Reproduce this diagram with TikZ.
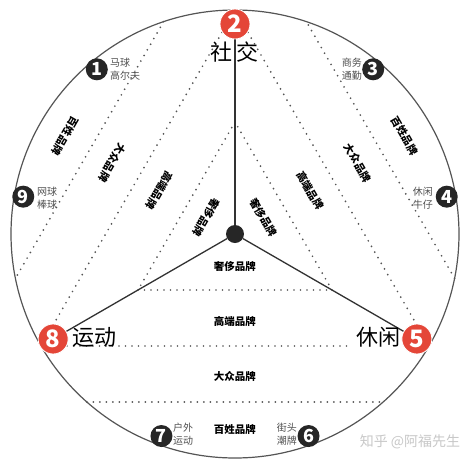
\documentclass[tikz,border=0pt]{standalone}
\usepackage{fontspec}
\setmainfont{Noto Sans CJK SC}
\definecolor{markred}{RGB}{228,70,56}
\definecolor{markblack}{RGB}{38,38,38}
\definecolor{ringgray}{RGB}{85,85,85}
\definecolor{spokegray}{RGB}{50,50,50}
\definecolor{dotgray}{RGB}{85,85,85}
\definecolor{labelgray}{RGB}{80,80,80}
\definecolor{wmgray}{RGB}{200,200,200}
\begin{document}
\begin{tikzpicture}[x=1pt,y=1pt,
  ring/.style={draw=ringgray, line width=1.2pt},
  spoke/.style={draw=spokegray, line width=1.3pt},
  dotline/.style={draw=dotgray, line width=1.9pt, line cap=round, dash pattern=on 0pt off 6.5pt},
  redmark/.style={circle, fill=markred, draw=white, line width=0.8pt, minimum size=30pt, inner sep=0pt, text=white, font=\bfseries\fontsize{24}{24}\selectfont},
  blackmark/.style={circle, fill=markblack, minimum size=22pt, inner sep=0pt, text=white, font=\bfseries\fontsize{18}{18}\selectfont},
  biglabel/.style={font=\fontsize{22}{22}\selectfont, text=black, inner sep=0pt},
  small/.style={font=\fontsize{10}{13}\selectfont, text=labelgray, inner sep=0pt},
  band/.style={font=\bfseries\fontsize{10.5}{10.5}\selectfont, inner sep=0pt, text=black}
]
\useasboundingbox (-235,-225) rectangle (239,234);
\fill[white] (-235,-225) rectangle (239,234);
\coordinate (O) at (0,0);
\draw[ring] (O) circle (224);

% dotted band lines for the three sectors
\foreach \b in {270,150,30}{
  \draw[dotline] (\b-60:112) -- (\b+60:112);
  \draw[dotline] (\b-41.41:224) -- (\b+41.41:224);
}
\draw[dotline] (210:224) -- (118,-112);
\draw[dotline] (90:224) -- (210:224);
\draw[dotline] (90:224) -- (330:224);

% band labels
\foreach \b/\r [count=\s] in {270/0,150/-120,30/-60}{
  \foreach \d/\t [count=\i] in {33/奢侈品牌,87/高端品牌,142/大众品牌,196/百姓品牌}{
    \node[band, rotate=\r] (band-\s-\i) at (\b:\d) {\t};
  }
}

% spokes and centre
\coordinate (p2) at (90:210);
\coordinate (p8) at (210:210);
\coordinate (p5) at (330:210);
\node[circle, fill=markblack, minimum size=18pt, inner sep=0pt] (c) at (O) {};
\draw[spoke] (c) -- (p2);
\draw[spoke] (c) -- (p8);
\draw[spoke] (c) -- (p5);

% red markers and big labels
\node[redmark] (m2) at (p2) {2};
\node[redmark] (m8) at (p8) {8};
\node[redmark] (m5) at (p5) {5};
\node[biglabel] (she) at (-13,181.5) {社};
\node[biglabel] (jiao) at (12.5,181.5) {交};
\node[biglabel] (yd) at (-140.5,-103.5) {运动};
\node[biglabel] (xx) at (143.5,-103.5) {休闲};

% black markers and small labels
\node[blackmark] (m1) at (130:215) {1};
\node[blackmark] (m3) at (50:215) {3};
\node[blackmark] (m9) at (170:215) {9};
\node[blackmark] (m4) at (10:215) {4};
\node[blackmark] (m7) at (250:215) {7};
\node[blackmark] (m6) at (290:215) {6};
\node[small, anchor=west, align=left] (l1) at (-125,165) {马球\\高尔夫};
\node[small, anchor=east, align=right] (l3) at (127,165) {商务\\通勤};
\node[small, anchor=west, align=left] (l9) at (-198,36) {网球\\棒球};
\node[small, anchor=east, align=right] (l4) at (198,36) {休闲\\牛仔};
\node[small, anchor=west, align=left] (l7) at (-62,-200) {户外\\运动};
\node[small, anchor=east, align=right] (l6) at (62,-200) {街头\\潮牌};

% watermark
\node[font=\fontsize{14}{14}\selectfont, text=wmgray, inner sep=0pt] (wm) at (175,-208) {知乎 @阿福先生};
\end{tikzpicture}
\end{document}
